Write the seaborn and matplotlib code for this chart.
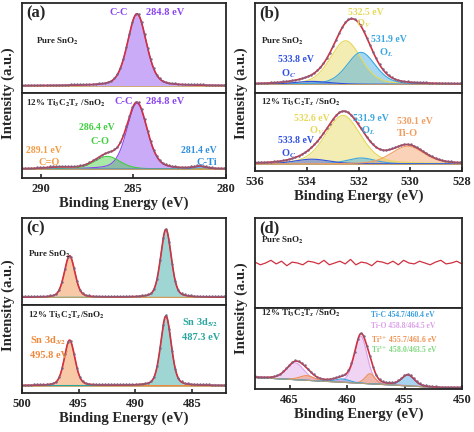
import numpy as np
import matplotlib
matplotlib.use("Agg")
import matplotlib.pyplot as plt
import seaborn as sns

sns.set_theme(style="ticks")
plt.rcParams['font.family'] = ['Liberation Serif', 'DejaVu Serif']
plt.rcParams['font.weight'] = 'bold'
plt.rcParams['mathtext.fontset'] = 'stix'

# ---- data: fitted peak parameters (center eV, height, FWHM) ----
a_top_peaks = [(284.8, 1.00, 1.2, "#8b45f0")]
a_bot_peaks = [(284.8, 0.88, 1.3, "#8b45f0"), (286.4, 0.17, 1.6, "#3fcf3f"),
               (289.1, 0.02, 1.6, "#f39c45"), (281.4, 0.03, 0.8, "#2e8fe0")]
b_top_peaks = [(532.5, 0.75, 1.4, "#e6d95a"), (531.9, 0.55, 1.3, "#3ba7e0"),
               (533.8, 0.05, 1.6, "#3050e0")]
b_bot_peaks = [(532.6, 0.82, 1.6, "#e6d95a"), (531.9, 0.10, 1.3, "#3ba7e0"),
               (533.8, 0.08, 1.6, "#3050e0"), (530.1, 0.30, 1.5, "#f39c60")]
c_top_peaks = [(495.8, 0.55, 1.1, "#f0883a"), (487.3, 0.90, 1.1, "#2aa6a0")]
c_bot_peaks = [(495.8, 0.62, 1.1, "#f0883a"), (487.3, 0.95, 1.1, "#2aa6a0")]
d_bot_peaks = [(458.8, 0.70, 1.3, "#dca0e8"), (464.5, 0.25, 1.8, "#dca0e8"),
               (458.0, 0.15, 1.0, "#f09050"), (463.5, 0.07, 1.5, "#f09050"),
               (454.7, 0.16, 1.3, "#3aa0e0"), (460.4, 0.05, 1.5, "#3aa0e0")]
d_top_noise = [0.01, -0.02, 0.00, 0.03, -0.01, 0.02, -0.03, 0.01, 0.00, -0.02,
               0.02, 0.01, -0.01, 0.03, -0.02, 0.00, 0.02, -0.01, 0.04, -0.02,
               0.01, 0.00, -0.03, 0.02, 0.01, -0.01, 0.02, -0.02, 0.03, 0.00,
               -0.01, 0.02, 0.00, -0.02, 0.01, 0.03, -0.01, 0.00, 0.02, -0.01]

def peak(x, c, h, w):
    s = w / 2.3548
    g = np.exp(-(x - c) ** 2 / (2 * s * s))
    l = 1 / (1 + ((x - c) / (w / 2)) ** 2)
    return h * (0.7 * g + 0.3 * l)

def draw(ax, x, peaks, base=None, dots=True):
    if base is None:
        base = np.zeros_like(x)
    total = base.copy()
    for c, h, w, col in peaks:
        y = peak(x, c, h, w)
        ax.fill_between(x, base, base + y, color=col, alpha=0.45, lw=0)
        ax.plot(x, base + y, color=col, lw=0.8)
        total += y
    ax.plot(x, base, color="#c8a060", lw=0.6)
    ax.plot(x, total, color="#d03040", lw=1.2)
    if dots:
        ax.plot(x[::6], total[::6] + 0.01, ls="none", marker=".", ms=1.5, color="#806080")

fig = plt.figure(figsize=(4.74, 4.32), dpi=100)
W, H = 474, 432
def axbox(l, t, r, b):
    return fig.add_axes([l / W, 1 - b / H, (r - l) / W, (b - t) / H])

panels = [
    ("(a)", (291, 280), [290, 285, 280], 22, 3, 226, 93, 178),
    ("(b)", (536, 528), [536, 534, 532, 530, 528], 255, 3, 462, 93, 171),
    ("(c)", (500, 482), [500, 495, 490, 485], 22, 218, 226, 305, 393),
    ("(d)", (468, 450), [465, 460, 455, 450], 255, 218, 462, 308, 389),
]
axes = {}
for name, xl, ticks, l, t, r, m, b in panels:
    top = axbox(l, t, r, m)
    bot = axbox(l, m, r, b)
    for ax in (top, bot):
        ax.set_xlim(*xl)
        ax.set_yticks([])
        for sp in ax.spines.values():
            sp.set_linewidth(1.3)
    top.set_xticks([])
    bot.set_xticks(ticks)
    bot.tick_params(labelsize=9, length=3, width=1.2, direction="in")
    bot.set_xlabel("Binding Energy (eV)", fontsize=10.5, fontweight="bold", labelpad=1)
    fig.text((l - 14) / W, 1 - m / H, "Intensity (a.u.)", rotation=90, ha="center",
             va="center", fontsize=10.5, fontweight="bold")
    top.text(0.02, 0.97, name, transform=top.transAxes, fontsize=12, va="top", fontweight="bold")
    axes[name] = (top, bot)

# (a)
x = np.linspace(291, 280, 400)
t, b = axes["(a)"]
draw(t, x, a_top_peaks); t.set_ylim(-0.1, 1.15)
draw(b, x, a_bot_peaks); b.set_ylim(-0.12, 1.02)
t.text(0.07, 0.55, "Pure SnO$_\\mathbf{2}$", transform=t.transAxes, fontsize=6.5)
t.text(286.3, 0.98, "C-C", color="#8b45f0", fontsize=7.5); t.text(284.3, 0.98, "284.8 eV", color="#8b45f0", fontsize=7.5)
b.text(0.02, 0.85, "12% Ti$_3$C$_2$T$_x$ /SnO$_2$", transform=b.transAxes, fontsize=6.5)
b.text(286.0, 0.87, "C-C", color="#8b45f0", fontsize=7.5); b.text(284.3, 0.87, "284.8 eV", color="#8b45f0", fontsize=7.5)
b.text(287.9, 0.53, "286.4 eV", color="#3fcf3f", fontsize=7); b.text(287.3, 0.33, "C-O", color="#3fcf3f", fontsize=7.5)
b.text(290.8, 0.22, "289.1 eV", color="#f39c45", fontsize=7); b.text(290.1, 0.05, "C=O", color="#f39c45", fontsize=7.5)
b.text(282.4, 0.22, "281.4 eV", color="#2e8fe0", fontsize=7); b.text(281.6, 0.05, "C-Ti", color="#2e8fe0", fontsize=7.5)

# (b)
x = np.linspace(536, 528, 400)
t, b = axes["(b)"]
draw(t, x, b_top_peaks); t.set_ylim(-0.15, 1.4)
draw(b, x, b_bot_peaks); b.set_ylim(-0.12, 1.2)
t.text(0.03, 0.55, "Pure SnO$_2$", transform=t.transAxes, fontsize=6.5)
t.text(532.4, 1.2, "532.5 eV", color="#e6d95a", fontsize=7); t.text(532.1, 1.0, "O$_V$", color="#e6d95a", fontsize=7.5)
t.text(531.5, 0.72, "531.9 eV", color="#3ba7e0", fontsize=7); t.text(531.2, 0.5, "O$_L$", color="#3ba7e0", fontsize=7.5)
t.text(535.1, 0.38, "533.8 eV", color="#3050e0", fontsize=7); t.text(535.0, 0.13, "O$_C$", color="#3050e0", fontsize=7.5)
b.text(0.03, 0.85, "12% Ti$_3$C$_2$T$_x$ /SnO$_2$", transform=b.transAxes, fontsize=6.5)
b.text(534.5, 0.72, "532.6 eV", color="#e6d95a", fontsize=7); b.text(533.9, 0.52, "O$_V$", color="#e6d95a", fontsize=7.5)
b.text(532.2, 0.72, "531.9 eV", color="#3ba7e0", fontsize=7); b.text(531.9, 0.52, "O$_L$", color="#3ba7e0", fontsize=7.5)
b.text(530.5, 0.68, "530.1 eV", color="#f39c60", fontsize=7); b.text(530.5, 0.48, "Ti-O", color="#f39c60", fontsize=7.5)
b.text(535.1, 0.35, "533.8 eV", color="#3050e0", fontsize=7); b.text(535.0, 0.12, "O$_C$", color="#3050e0", fontsize=7.5)

# (c)
x = np.linspace(500, 482, 400)
t, b = axes["(c)"]
draw(t, x, c_top_peaks); t.set_ylim(-0.1, 1.05)
draw(b, x, c_bot_peaks); b.set_ylim(-0.1, 1.1)
t.text(0.03, 0.55, "Pure SnO$_2$", transform=t.transAxes, fontsize=6.5)
b.text(0.03, 0.85, "12% Ti$_3$C$_2$T$_x$/SnO$_2$", transform=b.transAxes, fontsize=6.5)
b.text(499.3, 0.58, "Sn 3d$_{3/2}$", color="#f0883a", fontsize=7.5); b.text(499.3, 0.38, "495.8 eV", color="#f0883a", fontsize=7.5)
b.text(485.9, 0.82, "Sn 3d$_{5/2}$", color="#2aa6a0", fontsize=7.5); b.text(485.9, 0.62, "487.3 eV", color="#2aa6a0", fontsize=7.5)

# (d)
t, b = axes["(d)"]
xn = np.linspace(468, 450, len(d_top_noise))
t.plot(xn, d_top_noise, color="#d03040", lw=0.9); t.set_ylim(-0.5, 0.5)
t.text(0.03, 0.72, "Pure SnO$_2$", transform=t.transAxes, fontsize=6.5)
x = np.linspace(468, 450, 400)
base = 0.15 * np.clip((x - 452) / 16, 0, 1) + 0.02
draw(b, x, d_bot_peaks, base=base); b.set_ylim(0, 1.2)
b.text(0.03, 0.9, "12% Ti$_3$C$_2$T$_x$ /SnO$_2$", transform=b.transAxes, fontsize=6.5)
for i, (txt, col) in enumerate([("Ti-C 454.7/460.4 eV", "#3aa0e0"), ("Ti-O 458.8/464.5 eV", "#dca0e8"),
                                ("Ti$^{2+}$ 455.7/461.6 eV", "#f09050"), ("Ti$^{3+}$ 458.0/463.5 eV", "#7ed87e")]):
    b.text(0.56, 0.96 - i * 0.135, txt, color=col, transform=b.transAxes, fontsize=5.5, va="top")

fig.savefig("out.png", dpi=100)
